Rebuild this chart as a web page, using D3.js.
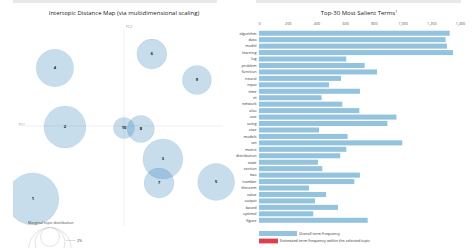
<!DOCTYPE html>
<html>
<head>
<meta charset="utf-8">
<script src="https://cdn.jsdelivr.net/npm/d3@7"></script>
<style>
  body { margin: 0; background: #fff; }
  svg text { font-family: "Open Sans", sans-serif; }
</style>
</head>
<body>
<div id="chart"></div>
<script>
// LDAvis-style view: topic map on the left, salient terms on the right

const width = 474, height = 248;

// topic map (PC1, PC2 coordinates and marginal share in %)
const topics = [1, 2, 3, 4, 5, 6, 7, 8, 9, 10];
const pc1 = [-0.95, -0.615, 0.405, -0.72, 0.96, 0.29, 0.365, 0.175, 0.76, 0.0];
const pc2 = [-0.73, -0.01, -0.33, 0.58, -0.56, 0.72, -0.57, -0.03, 0.46, -0.02];
const share = [15.1, 9.8, 8.9, 7.8, 7.6, 5.0, 5.0, 4.1, 4.7, 2.5];
const guideSizes = [2, 5, 10];

// salient terms and overall frequency
const terms = ["algorithm", "data", "model", "learning", "log", "problem", "function", "neural",
  "input", "time", "et", "network", "also", "one", "using", "case", "models", "set", "matrix",
  "distribution", "state", "section", "two", "number", "theorem", "value", "output", "based",
  "optimal", "figure"];
const freq = [1328, 1300, 1309, 1351, 608, 736, 822, 571, 488, 703, 436, 580, 699, 957, 894,
  418, 617, 998, 608, 566, 411, 441, 703, 664, 348, 467, 390, 550, 378, 757];
const freqTicks = [0, 200, 400, 600, 800, 1000, 1200, 1400];

const blue = "#94c3de", red = "#e03d4e";

const svg = d3.select("#chart").append("svg")
  .attr("width", width)
  .attr("height", height);

// ---------- left panel ----------
svg.append("clipPath").attr("id", "leftclip")
  .append("rect").attr("x", 13).attr("y", 0).attr("width", 224).attr("height", height);
const left = svg.append("g").attr("clip-path", "url(#leftclip)");

left.append("rect").attr("x", 13).attr("y", 0).attr("width", 204).attr("height", 3).attr("fill", "#e8e8e8");

svg.append("text")
  .attr("x", 124).attr("y", 15)
  .attr("text-anchor", "middle")
  .attr("font-size", "6px")
  .attr("fill", "#222")
  .text("Intertopic Distance Map (via multidimensional scaling)");

const x = d3.scaleLinear().domain([-1, 1]).range([28, 220]);
const y = d3.scaleLinear().domain([-1, 1]).range([226, 26]);
const r = d3.scaleSqrt().domain([0, 1]).range([0, 6.7]);

left.append("line")
  .attr("x1", x(-1.02)).attr("x2", x(1.03))
  .attr("y1", y(0)).attr("y2", y(0))
  .attr("stroke", "#e2e2e2").attr("stroke-width", 0.6);
left.append("line")
  .attr("x1", x(0)).attr("x2", x(0))
  .attr("y1", y(0.96)).attr("y2", y(-1))
  .attr("stroke", "#e2e2e2").attr("stroke-width", 0.6);
left.append("text").attr("x", x(-1.03)).attr("y", y(0) - 0.5)
  .attr("text-anchor", "end").attr("font-size", "3.5px").attr("fill", "#999").text("PC1");
left.append("text").attr("x", x(0) + 2).attr("y", y(0.985))
  .attr("font-size", "3.5px").attr("fill", "#999").text("PC2");

const topicData = topics.map((t, i) => ({ t, px: pc1[i], py: pc2[i], s: share[i] }));

left.selectAll("circle.topic")
  .data(topicData)
  .enter().append("circle")
  .attr("class", "topic")
  .attr("cx", d => x(d.px))
  .attr("cy", d => y(d.py))
  .attr("r", d => r(d.s))
  .attr("fill", "#1f77b4")
  .attr("fill-opacity", 0.25)
  .attr("stroke", "#1f77b4")
  .attr("stroke-opacity", 0.15)
  .attr("stroke-width", 0.6);

left.selectAll("text.tlabel")
  .data(topicData)
  .enter().append("text")
  .attr("class", "tlabel")
  .attr("x", d => x(d.px))
  .attr("y", d => y(d.py) + 1.4)
  .attr("text-anchor", "middle")
  .attr("font-size", "4px")
  .attr("font-weight", "bold")
  .attr("fill", "#111")
  .text(d => d.t);

// marginal topic distribution guide
left.append("text").attr("x", 28).attr("y", 223.5)
  .attr("font-size", "3.7px").attr("fill", "#444").text("Marginal topic distribution");

const guideTop = 227.5, guideX = 50;
left.selectAll("circle.guide")
  .data(guideSizes)
  .enter().append("circle")
  .attr("class", "guide")
  .attr("cx", guideX)
  .attr("cy", d => guideTop + r(d))
  .attr("r", d => r(d))
  .attr("fill", "none")
  .attr("stroke", "#cfcfcf")
  .attr("stroke-width", 0.6);
left.append("line")
  .attr("x1", guideX + 16).attr("x2", 75.5)
  .attr("y1", 240.5).attr("y2", 240.5)
  .attr("stroke", "#bbb").attr("stroke-width", 0.5);
left.append("text").attr("x", 77).attr("y", 242)
  .attr("font-size", "3.7px").attr("fill", "#444").text(guideSizes[0] + "%");

// ---------- right panel ----------
svg.append("rect").attr("x", 256).attr("y", 0).attr("width", 205).attr("height", 3).attr("fill", "#e8e8e8");

const title = svg.append("text")
  .attr("x", 359).attr("y", 15)
  .attr("text-anchor", "middle")
  .attr("font-size", "6px")
  .attr("fill", "#222");
title.append("tspan").text("Top-30 Most Salient Terms");
title.append("tspan").attr("font-size", "3.5px").attr("dy", "-2.2").text("1");

const bx = d3.scaleLinear().domain([0, 1400]).range([259, 460]);
const by = d3.scaleBand().domain(terms).range([30, 223.5]).paddingInner(0.22).paddingOuter(0.11);

const xAxis = svg.append("g")
  .attr("transform", "translate(0,24.5)")
  .call(d3.axisTop(bx).tickValues(freqTicks).tickSize(0).tickPadding(0).tickFormat(d3.format(",")));
xAxis.select(".domain").remove();
xAxis.selectAll("text").attr("font-size", "3.7px").attr("fill", "#555").attr("font-family", "Open Sans, sans-serif");

svg.selectAll("rect.bar")
  .data(terms)
  .enter().append("rect")
  .attr("class", "bar")
  .attr("x", bx(0))
  .attr("y", d => by(d))
  .attr("width", (d, i) => bx(freq[i]) - bx(0))
  .attr("height", by.bandwidth())
  .attr("fill", blue);

svg.selectAll("text.term")
  .data(terms)
  .enter().append("text")
  .attr("class", "term")
  .attr("x", 256.5)
  .attr("y", d => by(d) + by.bandwidth() / 2 + 1.3)
  .attr("text-anchor", "end")
  .attr("font-size", "3.8px")
  .attr("fill", "#333")
  .text(d => d);

// legend
svg.append("rect").attr("x", 259).attr("y", 231).attr("width", 38).attr("height", 5).attr("fill", blue);
svg.append("text").attr("x", 299).attr("y", 234.8).attr("font-size", "3.8px").attr("fill", "#333")
  .text("Overall term frequency");
svg.append("rect").attr("x", 259).attr("y", 238.6).attr("width", 19).attr("height", 4.8).attr("fill", red);
svg.append("text").attr("x", 280).attr("y", 242.3).attr("font-size", "3.8px").attr("fill", "#333")
  .text("Estimated term frequency within the selected topic");
</script>
</body>
</html>
